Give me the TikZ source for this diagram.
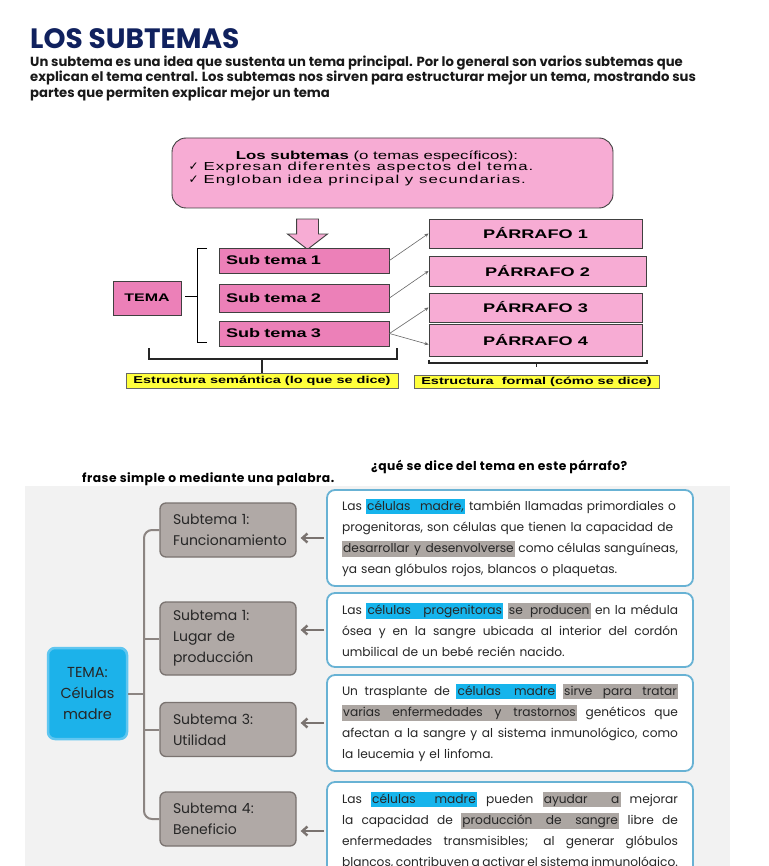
\documentclass[tikz,border=0pt]{standalone}
\usepackage{fontspec}
\setmainfont{Poppins}
\newfontfamily\arialx{Liberation Sans}[FakeStretch=1.45]
\newfontfamily\arialxs{Liberation Sans}[FakeStretch=1.45,LetterSpace=9]
\newfontfamily\chkfont{DejaVu Sans}
\newfontfamily\poplbl{Poppins}[LetterSpace=4]
\usetikzlibrary{shapes.arrows,arrows.meta,calc}
\definecolor{navy}{RGB}{16,33,94}
\definecolor{rosa}{RGB}{247,172,212}
\definecolor{rosaf}{RGB}{236,128,184}
\definecolor{amarillo}{RGB}{255,255,60}
\definecolor{fondo}{RGB}{242,242,242}
\definecolor{celeste}{RGB}{104,178,212}
\definecolor{gris}{RGB}{176,169,166}
\definecolor{grisb}{RGB}{122,115,112}
\definecolor{ramagris}{RGB}{140,133,130}
\definecolor{azul}{RGB}{28,178,234}
\definecolor{azulb}{RGB}{96,198,240}
\definecolor{hlazul}{RGB}{22,180,236}
\definecolor{hlgris}{RGB}{172,166,162}
\definecolor{texto}{RGB}{38,38,38}
\setlength{\fboxsep}{1.2pt}
% resaltado de ancho dado (ancho total, con el margen)
\newcommand{\hla}[2][0pt]{\colorbox{hlazul}{\spaceskip=0pt\xspaceskip=0pt\rule[-3pt]{0pt}{13pt}\ifdim#1>0pt\makebox[\dimexpr#1-2.4pt\relax][s]{#2}\else#2\fi}}
\newcommand{\hlg}[2][0pt]{\colorbox{hlgris}{\spaceskip=0pt\xspaceskip=0pt\rule[-3pt]{0pt}{13pt}\ifdim#1>0pt\makebox[\dimexpr#1-2.4pt\relax][s]{#2}\else#2\fi}}
\newcommand{\jl}[1]{{\spaceskip=0pt\xspaceskip=0pt\makebox[336pt][s]{#1}}}
\newcommand{\chk}{\makebox[15pt][l]{\chkfont\fontsize{12}{12}\selectfont ✓}}

\begin{document}
\begin{tikzpicture}[x=1pt,y=-1pt,
  caja/.style={draw=black!75,line width=0.9pt},
  subt/.style={caja,fill=rosaf,minimum width=170,text width=156,inner xsep=7,align=left,font=\arialx\bfseries\fontsize{12.5}{14}\selectfont},
  parr/.style={caja,fill=rosa,minimum width=213,font=\arialx\bfseries\fontsize{12.5}{14}\selectfont},
  amar/.style={draw=black!60,line width=0.6pt,fill=amarillo,inner sep=0,font=\arialx\bfseries\fontsize{10}{11}\selectfont},
  flechita/.style={draw=black!60,line width=0.6pt,-{Stealth[length=4pt,width=3.5pt]}},
  corchete/.style={draw=black!85,line width=1.6pt},
  parrafo/.style={draw=celeste,line width=1.8pt,fill=white,rounded corners=8pt,minimum width=366,text width=336,inner xsep=15,align=left,font=\fontsize{12.2}{21.3}\selectfont,text=texto},
  subl/.style={draw=grisb,line width=1.3pt,fill=gris,rounded corners=6pt,minimum width=136,text width=110,inner xsep=13,align=left,font=\fontsize{14}{21}\selectfont,text=texto},
  rama/.style={draw=ramagris,line width=2pt},
  flechagris/.style={draw=grisb,line width=2.4pt,-{Straight Barb[length=5pt,width=9pt]},shorten <=2pt,shorten >=4pt}]
\useasboundingbox (0,0) rectangle (768,866);
\clip (0,0) rectangle (768,866);
%TITULO
\node[anchor=base west,inner sep=0,text=navy,font=\bfseries\fontsize{28}{30}\selectfont] (titulo) at (30,49) {LOS SUBTEMAS};
\node[anchor=north west,inner sep=0,align=left,text=black!90,font=\bfseries\fontsize{13.2}{15.5}\selectfont] (intro) at (30,55.5)
  {Un subtema es una idea que sustenta un tema principal. Por lo general son varios subtemas que\\
   explican el tema central. Los subtemas nos sirven para estructurar mejor un tema, mostrando sus\\
   partes que permiten explicar mejor un tema};
%ESQUEMA ROSA
\node[caja,fill=rosa,rounded corners=14pt,minimum width=441,minimum height=70] (resumen) at (392.5,173) {};
\node[font=\arialx\fontsize{11.6}{13}\selectfont] (rtit) at (377,156.5) {\textbf{Los subtemas} (o temas específicos):};
\node[anchor=west,font=\arialxs\fontsize{11.6}{13}\selectfont] (rb1) at (185,168) {\chk Expresan diferentes aspectos del tema.};
\node[anchor=west,font=\arialxs\fontsize{11.6}{13}\selectfont] (rb2) at (185,180.5) {\chk Engloban idea principal y secundarias.};
\node[caja,fill=rosa,single arrow,shape border rotate=270,minimum height=30,inner sep=10.5,single arrow head extend=9,single arrow tip angle=105] (flecha) at (307.5,230) {};
\node[caja,fill=rosaf,minimum width=68,minimum height=34,font=\arialx\bfseries\fontsize{11}{12}\selectfont] (tema) at (147,298) {TEMA};
\node[subt,minimum height=25] (st1) at (304,260.5) {Sub tema 1};
\node[subt,minimum height=28] (st2) at (304,298) {Sub tema 2};
\node[subt,minimum height=25] (st3) at (304,333.5) {Sub tema 3};
\node[parr,minimum height=29] (p1) at (535.5,233.5) {PÁRRAFO 1};
\node[parr,minimum width=217,minimum height=30] (p2) at (537.5,271) {PÁRRAFO 2};
\node[parr,minimum height=29] (p3) at (535.5,307.5) {PÁRRAFO 3};
\node[parr,minimum height=32] (p4) at (535.5,340.5) {PÁRRAFO 4};
\draw[flechita] (st1.east) -- (p1.west);
\draw[flechita] (st2.east) -- (p2.west);
\draw[flechita] (st3.east) -- (p3.west);
\draw[flechita] (st3.east) -- ($(p4.west)+(0,4)$);
%LLAVES
\coordinate (llv) at (197,296);
\draw[line width=0.8pt] (207,248) -- (197,248) -- (197,342) -- (207,342);
\draw[line width=0.8pt] ($(tema.east)+(4,-2)$) -- (llv);
\node[amar,minimum width=272,minimum height=15] (lblsem) at (262,380.5) {Estructura semántica (lo que se dice)};
\node[amar,minimum width=245,minimum height=13] (lblfor) at (536.5,381.5) {Estructura\ \ formal (cómo se dice)};
\draw[corchete] (149,348) |- (397,359) -- (397,348);
\draw[corchete] (lblsem.north) -- ++(0,-14);
\draw[corchete,line width=1.1pt] (429,359.5) |- (647,363) -- (647,359.5);
\draw[corchete,line width=1.1pt] ($(lblfor.north)+(0,-8)$) -- ++(0,-4);
%PREGUNTAS
\node[anchor=west,inner sep=0,font=\poplbl\bfseries\fontsize{12.3}{13}\selectfont] (preg) at (371,467) {¿qué se dice del tema en este párrafo?};
\node[anchor=west,inner sep=0,font=\poplbl\bfseries\fontsize{12.3}{13}\selectfont] (frase) at (82,479) {frase simple o mediante una palabra.};
%CELULAS MADRE
\fill[fondo] (25,486) rectangle (730,870);
\node[parrafo,minimum height=96] (tb1) at (510,538)
  {Las \hla[99pt]{células madre,} también llamadas primordiales o\\
   progenitoras, son células que tienen la capacidad de\\
   \jl{\hlg[173pt]{desarrollar y desenvolverse} como células sanguíneas,}\\
   ya sean glóbulos rojos, blancos o plaquetas.};
\node[parrafo,minimum height=74] (tb2) at (510,630)
  {\jl{Las \hla[137pt]{células progenitoras} \hlg[83pt]{se producen} en la médula}\\
   \jl{ósea y en la sangre ubicada al interior del cordón}\\
   umbilical de un bebé recién nacido.};
\node[parrafo,minimum height=96] (tb3) at (510,723)
  {\jl{Un trasplante de \hla[100pt]{células madre} \hlg[115pt]{sirve para tratar}}\\
   \jl{\hlg[235pt]{varias enfermedades y trastornos} genéticos que}\\
   \jl{afectan a la sangre y al sistema inmunológico, como}\\
   la leucemia y el linfoma.};
\node[parrafo,minimum height=98] (tb4) at (510,831)
  {\jl{Las \hla[106pt]{células madre} pueden \hlg[78pt]{ayudar a} mejorar}\\
   \jl{la capacidad de \hlg[158pt]{producción de sangre} libre de}\\
   \jl{enfermedades transmisibles; al generar glóbulos}\\
   \jl{blancos, contribuyen a activar el sistema inmunológico.}};
\node[subl,minimum height=54] (s1) at (228,530) {Subtema 1:\\Funcionamiento};
\node[subl,minimum height=73] (s2) at (228,638.5) {Subtema 1:\\Lugar de\\producción};
\node[subl,minimum height=54] (s3) at (228,729.5) {Subtema 3:\\Utilidad};
\node[subl,minimum height=54] (s4) at (228,819) {Subtema 4:\\Beneficio};
\node[draw=azulb,line width=2.5pt,fill=azul,rounded corners=7pt,minimum width=79,minimum height=91,align=center,text=texto,font=\fontsize{14.5}{21}\selectfont] (temab) at (87.5,693.5) {TEMA:\\Células\\madre};
\coordinate (tronco) at (144,0);
\draw[rama,rounded corners=8pt] (s1.west) -| (s4.west -| tronco) -- (s4.west);
\draw[rama] (s2.west) -- (s2.west -| tronco);
\draw[rama] (s3.west) -- (s3.west -| tronco);
\draw[rama] (temab.east) -- (temab.east -| tronco);
\draw[flechagris] (tb1.west) -- (tb1.west -| s1.east);
\draw[flechagris] (tb2.west) -- (tb2.west -| s2.east);
\draw[flechagris] (tb3.west) -- (tb3.west -| s3.east);
\draw[flechagris] (tb4.west) -- (tb4.west -| s4.east);
\end{tikzpicture}
\end{document}
